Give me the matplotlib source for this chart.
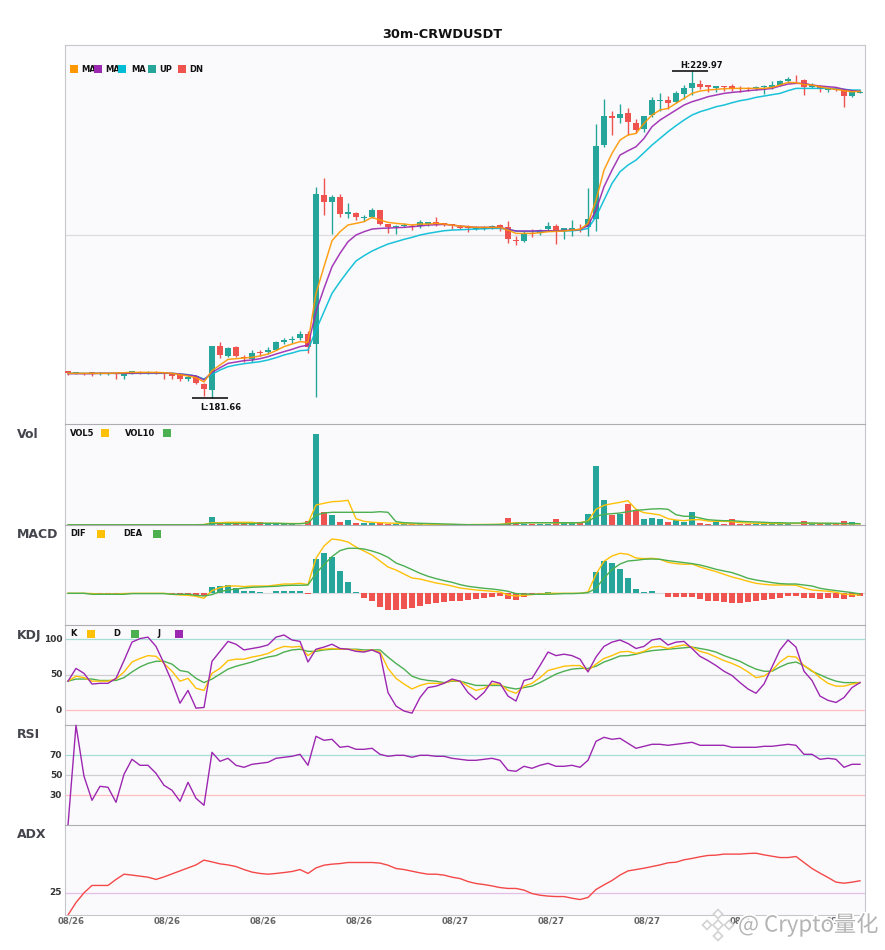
import numpy as np
import matplotlib
matplotlib.use("Agg")
import matplotlib.pyplot as plt
import matplotlib.patheffects as pe
from matplotlib.patches import Polygon, Rectangle

symbol_title = "30m-CRWDUSDT"
date_labels = ["08/26", "08/26", "08/26", "08/26", "08/27", "08/27", "08/27", "08/27", "08/28"]

# harga candle
opens = [185.60,185.31,185.36,185.50,185.31,185.16,185.31,184.96,185.26,185.50,
         185.36,185.50,185.40,185.26,185.01,184.52,184.86,183.68,182.89,189.35,
         187.87,189.20,187.77,187.37,188.41,188.46,188.80,189.94,190.23,190.53,
         191.12,189.69,211.65,210.61,211.35,208.84,208.99,208.25,208.39,209.43,
         207.36,206.92,207.06,207.06,207.06,207.36,207.66,207.46,207.31,206.97,
         206.97,206.62,206.67,206.92,207.21,206.92,204.99,204.85,206.03,205.98,
         206.62,207.06,206.47,206.47,206.57,206.87,208.09,219.03,223.31,223.02,
         223.76,222.28,221.39,223.46,225.58,225.68,225.38,226.57,227.45,228.04,
         227.85,227.45,227.75,227.75,227.65,227.45,227.40,227.55,227.65,227.94,
         228.49,228.68,228.63,227.60,227.75,227.16,227.30,227.16,226.27,226.76]
closes = [185.31,185.45,185.26,185.31,185.40,185.31,185.16,185.16,185.65,185.31,
          185.45,185.36,185.26,184.96,184.47,184.72,183.88,182.99,189.35,188.02,
          189.05,187.87,187.62,188.26,188.31,188.75,189.94,190.23,190.33,191.12,
          189.25,211.79,210.61,211.35,208.84,209.13,208.39,208.39,209.43,207.36,
          206.92,207.06,207.21,206.92,207.66,207.66,207.36,207.21,207.16,206.82,
          206.82,206.82,206.87,207.06,206.97,205.14,204.90,205.88,205.93,206.47,
          207.06,206.47,206.72,206.72,206.47,208.10,218.88,223.31,223.02,223.61,
          222.43,221.25,223.31,225.68,225.68,225.24,226.71,227.45,228.19,227.60,
          227.65,227.75,227.65,227.30,227.55,227.35,227.60,227.80,227.94,228.49,
          228.78,228.59,227.60,227.94,227.30,227.45,227.16,226.27,226.86,226.86]
highs = [185.60,185.50,185.36,185.50,185.55,185.36,185.31,185.40,185.65,185.60,
         185.60,185.65,185.40,185.26,185.01,185.01,185.01,183.83,189.35,189.94,
         189.20,189.35,188.06,188.75,188.75,189.15,190.03,190.48,190.82,191.61,
         191.50,212.78,214.16,211.65,211.79,210.46,209.13,208.69,209.72,209.43,
         207.36,207.21,207.51,207.36,207.95,207.66,208.35,207.51,207.31,207.21,
         207.21,207.06,207.06,207.26,207.36,207.80,205.59,206.37,206.62,206.62,
         207.66,207.36,206.77,207.95,207.36,212.68,222.13,225.83,224.05,225.09,
         224.50,222.87,223.31,226.12,226.71,226.27,227.01,227.90,229.97,228.63,
         227.94,227.75,227.75,228.04,227.75,227.55,227.75,227.94,228.49,228.63,
         229.08,229.37,228.78,228.19,227.90,227.60,227.60,227.30,227.16,227.16]
lows = [185.11,185.16,185.11,184.96,185.11,185.06,184.47,184.52,185.26,185.26,
        185.26,185.26,184.47,184.47,184.22,184.12,183.78,181.96,181.66,187.52,
        187.72,187.77,187.03,186.93,187.87,188.21,188.75,189.69,189.79,190.23,
        188.36,181.86,208.69,205.88,208.39,208.25,207.95,207.80,208.25,207.21,
        206.03,205.88,206.87,206.47,206.77,207.06,207.06,207.06,206.57,206.57,
        206.18,206.47,206.47,206.67,206.37,204.55,204.26,204.70,205.44,205.73,
        206.47,204.40,205.14,205.59,206.18,205.63,206.32,218.73,220.51,222.28,
        220.51,220.80,220.95,223.17,224.05,224.35,225.24,225.83,226.42,227.30,
        226.86,226.86,227.01,227.01,226.86,227.01,227.16,226.57,227.30,227.75,
        228.34,228.34,226.42,227.45,226.86,226.86,227.01,224.64,226.12,226.71]

ma_fast = [185.31,185.31,185.31,185.31,185.31,185.31,185.36,185.40,185.45,185.45,
           185.45,185.45,185.40,185.31,185.11,184.91,184.67,184.03,185.70,186.54,
           187.37,187.47,187.57,187.67,187.87,188.16,188.66,189.25,189.64,189.99,
           189.88,197.12,201.06,204.90,206.23,207.22,207.46,207.71,208.35,207.95,
           207.61,207.46,207.36,207.22,207.36,207.36,207.46,207.36,207.21,207.06,
           206.97,206.87,206.87,206.87,206.87,206.47,205.98,205.98,205.98,206.08,
           206.23,206.28,206.33,206.47,206.57,207.45,210.90,215.33,217.80,219.77,
           220.51,220.75,222.23,223.46,224.20,224.45,225.19,225.92,226.66,227.01,
           227.16,227.26,227.35,227.40,227.40,227.40,227.40,227.40,227.55,227.90,
           228.29,228.24,228.00,227.90,227.65,227.40,227.26,227.06,226.91,226.96]
ma_mid = [185.26,185.26,185.26,185.26,185.31,185.31,185.31,185.31,185.31,185.36,
          185.36,185.36,185.36,185.31,185.21,185.06,184.91,184.32,185.45,186.14,
          186.78,186.98,187.18,187.28,187.47,187.77,188.16,188.51,188.85,189.25,
          189.48,194.41,197.86,201.06,203.03,204.75,205.74,206.23,206.62,206.72,
          206.77,206.82,206.87,206.97,207.07,207.21,207.26,207.31,207.21,207.06,
          206.97,206.87,206.87,206.87,206.87,206.57,206.33,206.33,206.33,206.37,
          206.37,206.37,206.42,206.47,206.57,207.11,209.42,212.87,215.33,217.55,
          218.19,218.78,220.01,221.74,222.72,223.46,224.20,224.94,225.43,225.78,
          226.17,226.42,226.66,226.81,226.91,227.06,227.16,227.26,227.40,227.75,
          228.04,228.14,228.14,227.90,227.75,227.65,227.55,227.26,227.06,226.96]
ma_slow = [185.31,185.31,185.31,185.31,185.31,185.31,185.31,185.31,185.31,185.31,
           185.31,185.31,185.31,185.31,185.21,185.11,184.91,184.47,185.16,185.80,
           186.29,186.54,186.73,186.88,187.03,187.28,187.62,188.02,188.31,188.66,
           188.74,191.70,194.41,197.12,198.84,200.42,201.90,202.68,203.37,203.91,
           204.41,204.75,205.10,205.39,205.74,205.98,206.18,206.37,206.47,206.52,
           206.57,206.62,206.67,206.72,206.72,206.57,206.33,206.28,206.28,206.28,
           206.33,206.33,206.33,206.37,206.47,206.71,208.44,210.90,213.36,215.09,
           216.07,216.81,217.90,219.03,220.01,221.00,221.89,222.72,223.46,223.95,
           224.30,224.69,224.94,225.28,225.58,225.78,226.07,226.27,226.47,226.66,
           227.06,227.40,227.40,227.40,227.40,227.40,227.35,227.26,227.16,227.16]

# volume (tanpa skala di gambar, satuan relatif)
volumes = [0.2,0.2,0.2,0.2,0.2,0.2,0.2,0.2,0.2,0.2,
           0.2,0.2,0.2,0.2,0.2,0.3,0.6,1.5,7.7,1.0,
           1.0,1.0,1.0,1.0,2.7,1.0,1.0,1.0,0.7,0.5,
           3.7,90.7,12.7,9.7,2.7,4.7,1.7,1.7,1.7,1.7,
           1.0,0.7,0.7,0.7,1.0,0.5,0.5,0.5,0.5,0.3,
           0.3,1.5,0.3,0.3,1.3,6.7,0.7,0.7,0.7,0.7,
           0.7,5.7,2.7,2.0,2.0,10.7,58.7,24.7,9.7,10.7,
           20.7,14.7,5.7,6.7,5.7,2.7,5.0,2.7,12.7,1.7,
           1.0,2.7,0.7,5.7,1.3,1.0,1.0,0.8,0.8,0.8,
           0.8,0.5,3.7,1.0,1.0,1.3,0.8,3.7,2.7,0.5]
vol5 = [0.2,0.2,0.2,0.2,0.2,0.2,0.2,0.2,0.2,0.2,
        0.2,0.2,0.2,0.2,0.2,0.3,0.3,0.5,2.3,2.3,
        2.7,2.7,2.7,2.7,1.7,1.7,1.7,1.5,1.5,1.5,
        2.0,20.0,21.7,23.3,23.7,24.7,6.3,3.7,2.7,2.3,
        2.0,1.7,1.3,1.0,1.0,0.8,0.7,0.5,0.5,0.4,
        0.4,0.5,0.5,0.6,0.7,1.7,2.3,2.3,2.3,2.3,
        2.3,2.0,2.3,2.3,2.3,4.0,15.7,19.7,21.3,22.7,
        24.3,15.7,12.3,11.3,10.0,6.3,5.0,4.3,5.3,5.3,
        4.0,3.7,3.7,3.3,2.3,2.0,1.7,1.5,1.5,1.5,
        1.5,1.5,1.7,1.5,1.5,1.5,1.3,1.3,1.2,1.0]
vol10 = [0.2,0.2,0.2,0.2,0.2,0.2,0.2,0.2,0.2,0.2,
         0.2,0.2,0.2,0.2,0.2,0.2,0.2,0.3,1.5,1.5,
         1.5,1.5,1.5,1.5,1.7,1.7,1.7,1.5,1.2,1.3,
         2.0,10.0,12.0,12.7,12.7,12.7,12.7,12.7,12.7,13.3,
         12.7,3.3,2.3,2.0,1.7,1.5,1.3,1.0,0.8,0.5,
         0.3,0.3,0.3,0.4,0.5,1.0,1.7,2.0,2.3,2.3,
         2.3,2.3,2.3,2.3,2.3,3.3,8.7,10.7,11.3,12.0,
         13.3,14.7,15.3,16.0,16.3,15.7,10.3,8.7,8.7,7.0,
         5.3,4.7,4.3,4.3,3.7,3.3,3.0,2.7,2.3,2.3,
         2.0,2.0,2.0,2.0,1.8,1.8,1.7,1.5,1.5,1.3]

# MACD
macd_hist = [0,0,0,-.07,-.07,-.07,-.07,-.07,0,0,
             0,0,0,-.07,-.07,-.1,-.2,-.27,.63,.73,
             .83,.53,.23,.23,.1,0,.23,.23,.23,.23,
             -.07,3.43,4.03,3.63,2.23,1.13,.13,-.47,-.77,-1.37,
             -1.67,-1.67,-1.57,-1.47,-1.27,-1.07,-.97,-.87,-.77,-.77,
             -.67,-.57,-.47,-.37,-.23,-.57,-.67,-.37,-.07,-.07,
             .13,.03,.03,.03,.03,.03,2.13,3.23,3.03,2.43,
             1.53,.43,.13,.23,0,-.37,-.37,-.37,-.37,-.57,
             -.77,-.77,-.87,-.97,-.97,-.87,-.77,-.67,-.57,-.47,
             -.27,-.27,-.47,-.47,-.57,-.47,-.47,-.57,-.37,-.23]
dif = [0,0,0,-.03,-.07,-.07,-.07,-.03,0,0,
       0,0,0,-.1,-.17,-.2,-.3,-.5,.27,.57,
       .73,.73,.67,.73,.73,.73,.83,.93,.93,1.0,
       .87,3.5,4.73,5.43,5.33,5.13,4.63,4.23,3.83,3.23,
       2.63,2.33,1.93,1.53,1.43,1.23,1.03,.9,.73,.53,
       .43,.33,.27,.2,.13,-.17,-.27,-.2,-.13,-.07,
       0,0,0,0,0,.13,1.9,3.2,3.73,4.0,
       3.9,3.53,3.47,3.5,3.4,3.1,2.97,2.9,2.93,2.63,
       2.4,2.17,1.9,1.63,1.43,1.2,1.0,.9,.83,.83,
       .83,.8,.53,.33,.27,.2,.1,-.1,-.13,-.17]
dea = [0,0,0,-.1,-.1,-.1,-.1,-.1,-.03,-.03,
       -.03,-.03,-.03,-.1,-.1,-.1,-.2,-.27,-.13,.17,
       .33,.43,.53,.6,.63,.67,.7,.77,.8,.8,
       .83,2.0,2.87,3.67,4.27,4.5,4.5,4.43,4.23,3.97,
       3.6,3.03,2.73,2.37,2.0,1.7,1.47,1.27,1.1,.87,
       .7,.6,.5,.43,.33,.2,-.03,-.07,-.1,-.1,
       -.1,-.07,-.03,-.03,0,.07,.5,1.53,2.37,2.93,
       3.23,3.3,3.4,3.43,3.4,3.27,3.17,3.07,2.97,2.83,
       2.63,2.4,2.23,2.07,1.8,1.5,1.33,1.2,1.07,.97,
       .93,.93,.83,.73,.5,.37,.27,.17,.07,-.07]

# KDJ
kdj_k = [41,48,46,41,41,41,44,54,68,73,
         77,76,66,55,41,45,31,28,52,59,
         70,72,72,75,77,80,86,90,89,90,
         77,85,86,87,86,86,85,83,85,82,
         59,45,37,30,35,38,38,38,42,41,
         34,28,31,37,37,28,24,34,38,46,
         56,59,62,63,63,56,65,73,77,82,
         83,80,83,89,90,87,90,92,89,83,
         80,75,70,66,61,54,46,48,56,68,
         76,75,63,56,46,38,34,34,37,39]
kdj_d = [41,44,44,44,42,42,42,46,54,61,
         66,69,69,65,56,54,45,39,44,51,
         58,62,65,68,72,75,77,82,85,86,
         83,83,85,86,86,86,86,85,85,85,
         75,66,58,48,44,42,41,39,41,41,
         38,35,35,35,35,32,30,32,34,39,
         45,51,55,58,59,59,62,68,72,76.5,
         77,79,82,84,85,86,87,88,89,87,
         85,82,77,73,69,63,58,55,55,61,
         66,68,63,55,50,45,41,39,39,39]
kdj_j = [41,59,52,37,38,38,45,70,96,101,
         103,90,66,40,10,28,3,4,69,83,
         97,93,85,87,89,92,103,106,99,97,
         68,86,89,93,87,86,83,82,85,80,
         25,6,-1,-4,18,32,34,38,44,41,
         25,15,25,41,38,20,13,42,45,63,
         82,77,79,77,72,54,75,90,96,99,
         94,87,90,99,101,92,96,97,87,76,
         70,63,55,49,39,30,24,37,61,85,
         99,89,55,42,20,14,11,18,32,39]

rsi = [0,100,49,25,39,38,23,51,66,60,
       60,52,40,35,24,43,27,20,73,64,
       67,60,58,61,62,63,67,68,69,71,
       60,89,85,86,78,79,76,76,77,71,
       69,70,70,68,70,70,69,69,67,66,
       65,65,66,67,65,55,54,59,57,60,
       62,59,59,60,58,65,84,88,86,87,
       82,77,79,81,81,80,81,82,83,80,
       80,80,80,78,78,78,78,79,79,80,
       81,80,71,71,66,67,66,58,61,61]

adx = [10,18.3,24.8,29.7,29.7,29.7,33.7,37.2,36.6,35.9,
       35.2,33.7,35.4,37.4,39.4,41.4,43.4,46.6,45.4,44.1,
       43.4,42.3,40.3,38.6,37.7,37.2,37.7,38.3,39,40.3,
       37.7,41.4,43.2,43.9,44.3,45,45,45,45,44.6,
       43.2,41,40.3,39.2,38.1,37.2,37.2,36.6,35.2,34.3,
       32.3,31,30.3,29.4,28.3,27.7,27.7,26.6,24.3,23.2,
       22.6,22.3,22.3,21.2,20.3,21.7,27,30.1,33,36.6,
       39.4,40.3,41.2,42.3,43.4,44.8,45.2,46.8,47.7,48.8,
       49.7,49.9,50.6,50.6,50.6,51,51.2,50.1,49.2,48.3,
       48.3,49,45,41,37.9,35,31.9,31.2,31.9,32.8]

UP = "#26a69a"
DN = "#ef5350"
C_MA1 = "#ff9800"
C_MA2 = "#9c27b0"
C_MA3 = "#00bcd4"
C_K = "#ffc107"
C_D = "#4caf50"
C_J = "#9c27b0"
BG = "#fafafd"

W, H = 885, 950
x = np.arange(len(opens))
bar_colors = [UP if c >= o else DN for o, c in zip(opens, closes)]

fig = plt.figure(figsize=(W / 100, H / 100), dpi=100)


def make_pane(top, bottom, ylim, top_color="#adadb3"):
    ax = fig.add_axes([65 / W, 1 - bottom / H, 800 / W, (bottom - top) / H])
    ax.set_facecolor(BG)
    ax.set_xlim(-0.375, 99.625)
    ax.set_ylim(*ylim)
    ax.set_xticks([])
    ax.set_yticks([])
    for name, sp in ax.spines.items():
        sp.set_linewidth(0.8)
        sp.set_color("#c6c6ce")
    ax.spines["top"].set_color(top_color)
    ax.spines["bottom"].set_visible(False)
    return ax


def pane_title(ax, text):
    ax.text(-48 / 800, 1 - 10 / (ax.bbox.height), text, transform=ax.transAxes,
            fontsize=9, fontweight="bold", color="#44444c", ha="left", va="center")


def legend_item(ax, x_box, x_text, color, text, y_px=19):
    # kotak legenda digambar dalam piksel dari kiri-atas panel
    h = ax.bbox.height
    w = ax.bbox.width
    if text:
        ax.text(x_text / w, 1 - y_px / h, text, transform=ax.transAxes, fontsize=6,
                fontweight="bold", color="#111111", va="center", ha="left", zorder=5)
    ax.add_patch(Rectangle((x_box / w, 1 - (y_px + 4) / h), 8 / w, 8 / h, transform=ax.transAxes,
                           facecolor=color, edgecolor="none", zorder=6))


def y_labels(ax, values):
    for v in values:
        ax.annotate(str(v), xy=(0, v), xycoords=ax.get_yaxis_transform(), xytext=(-2, 0),
                    textcoords="offset points", ha="right", va="center",
                    fontsize=6.5, fontweight="bold", color="#333333")


# ---------------------------------------------------------------------------------------------
# Panel harga
ax_main = make_pane(45, 424.5, (177.75, 233.81), top_color="#c6c6ce")
ax_main.axhline(205.74, color="#dcdce0", lw=0.9, zorder=1)
ax_main.vlines(x, lows, highs, colors=bar_colors, lw=1.0, zorder=2)
ax_main.bar(x, np.abs(np.array(closes) - np.array(opens)), bottom=np.minimum(opens, closes),
            width=0.75, color=bar_colors, zorder=3)
ax_main.plot(x, ma_slow, color=C_MA3, lw=1.1, zorder=4, alpha=0.9)
ax_main.plot(x, ma_mid, color=C_MA2, lw=1.1, zorder=4, alpha=0.9)
ax_main.plot(x, ma_fast, color=C_MA1, lw=1.1, zorder=4, alpha=0.9)
fig.text(442.5 / W, 1 - 34 / H, symbol_title, fontsize=9.3, fontweight="bold",
         color="#111111", ha="center", va="center")

i_low = int(np.argmin(lows))
i_high = int(np.argmax(highs))
ax_main.hlines(lows[i_low], i_low - 2.5, i_low + 2, color="black", lw=1.1, zorder=5)
ax_main.hlines(highs[i_high], i_high - 2.5, i_high + 2, color="black", lw=1.1, zorder=5)
ax_main.annotate(f"L:{lows[i_low]:.2f}", xy=(i_low - 1.5, lows[i_low]), xytext=(0, -6.5),
                 textcoords="offset points", fontsize=6, fontweight="bold", ha="left", va="center", color="#111111")
ax_main.annotate(f"H:{highs[i_high]:.2f}", xy=(i_high - 1.5, highs[i_high]), xytext=(0, 4.3),
                 textcoords="offset points", fontsize=6, fontweight="bold", ha="left", va="center", color="#111111")

legend_item(ax_main, 5, 16, C_MA1, "MA", y_px=24)
legend_item(ax_main, 29, 40.3, C_MA2, "MA", y_px=24)
legend_item(ax_main, 53, 66.3, C_MA3, "MA", y_px=24)
legend_item(ax_main, 83, 94.3, UP, "UP", y_px=24)
legend_item(ax_main, 113, 124.3, DN, "DN", y_px=24)

# ---------------------------------------------------------------------------------------------
# Panel volume
ax_vol = make_pane(424.5, 525, (0, 100.5))
ax_vol.bar(x, volumes, width=0.75, color=bar_colors, zorder=2)
ax_vol.plot(x, vol5, color=C_K, lw=1.0, zorder=3)
ax_vol.plot(x, vol10, color=C_D, lw=1.0, zorder=3)
pane_title(ax_vol, "Vol")
legend_item(ax_vol, 36, 5, C_K, "VOL5", y_px=8.5)
legend_item(ax_vol, 98, 60, C_D, "VOL10", y_px=8.5)

# ---------------------------------------------------------------------------------------------
# Panel MACD
ax_macd = make_pane(525, 625, (-3.17, 6.83))
ax_macd.axhline(0, color="#dcdce0", lw=0.9, zorder=1)
ax_macd.bar(x, macd_hist, width=0.75, color=[UP if v > 0 else DN for v in macd_hist], zorder=2)
ax_macd.plot(x, dif, color=C_K, lw=1.0, zorder=3)
ax_macd.plot(x, dea, color=C_D, lw=1.0, zorder=3)
pane_title(ax_macd, "MACD")
legend_item(ax_macd, 32, 5, C_K, "DIF", y_px=9)
legend_item(ax_macd, 88, 58, C_D, "DEA", y_px=9)

# ---------------------------------------------------------------------------------------------
# Panel KDJ
ax_kdj = make_pane(625, 725, (-20.7, 120.1))
ax_kdj.axhline(100, color="#a8dcd6", lw=0.9, zorder=1)
ax_kdj.axhline(50, color="#cfcfd3", lw=0.9, zorder=1)
ax_kdj.axhline(0, color="#ffbdbd", lw=0.9, zorder=1)
ax_kdj.plot(x, kdj_d, color=C_D, lw=1.0, zorder=3)
ax_kdj.plot(x, kdj_k, color=C_K, lw=1.0, zorder=3)
ax_kdj.plot(x, kdj_j, color=C_J, lw=1.0, zorder=4)
pane_title(ax_kdj, "KDJ")
y_labels(ax_kdj, [100, 50, 0])
legend_item(ax_kdj, 22, 5, C_K, "K", y_px=8.5)
legend_item(ax_kdj, 66, 48, C_D, "D", y_px=8.5)
legend_item(ax_kdj, 110, 92, C_J, "J", y_px=8.5)

# ---------------------------------------------------------------------------------------------
# Panel RSI
ax_rsi = make_pane(725, 825, (0.3, 100.3))
ax_rsi.axhline(70, color="#a8dcd6", lw=0.9, zorder=1)
ax_rsi.axhline(50, color="#cfcfd3", lw=0.9, zorder=1)
ax_rsi.axhline(30, color="#ffbdbd", lw=0.9, zorder=1)
ax_rsi.plot(x, rsi, color=C_J, lw=1.0, zorder=3, clip_on=False)
pane_title(ax_rsi, "RSI")
y_labels(ax_rsi, [70, 50, 30])

# ---------------------------------------------------------------------------------------------
# Panel ADX dan label tanggal
ax_adx = make_pane(825, 915, (10, 70))
ax_adx.spines["bottom"].set_visible(True)
ax_adx.axhline(25, color="#e3bfe8", lw=0.9, zorder=1)
ax_adx.plot(x, adx, color="#f44848", lw=1.0, zorder=3)
pane_title(ax_adx, "ADX")
y_labels(ax_adx, [25])
for pos, lbl in zip(x[::12], date_labels):
    ax_adx.annotate(lbl, xy=(pos + 0.4, 0), xycoords=ax_adx.get_xaxis_transform(), xytext=(0, -4.5),
                    textcoords="offset points", ha="center", va="center",
                    fontsize=6.2, fontweight="bold", color="#666666")

# ---------------------------------------------------------------------------------------------
# Watermark: ikon berlian dan teks
halo = [pe.withStroke(linewidth=2.5, foreground="white")]
for cx, cy, r in [(718, 925, 5), (718, 914, 4.5), (718, 936, 4.5), (707, 925, 4.5), (729, 925, 4.5)]:
    verts = [((cx - r) / W, 1 - cy / H), (cx / W, 1 - (cy - r) / H),
             ((cx + r) / W, 1 - cy / H), (cx / W, 1 - (cy + r) / H)]
    fig.add_artist(Polygon(verts, closed=True, transform=fig.transFigure, facecolor="white",
                           edgecolor="#d2d2d2", lw=1.2, zorder=9))
fig.text(738 / W, 1 - 925 / H, "@ Crypto量化", fontsize=16, color="#b4b4b4",
         family=["Noto Sans CJK SC", "DejaVu Sans"], ha="left", va="center", zorder=10,
         path_effects=halo)

fig.savefig("out.png", dpi=100, facecolor="white")
